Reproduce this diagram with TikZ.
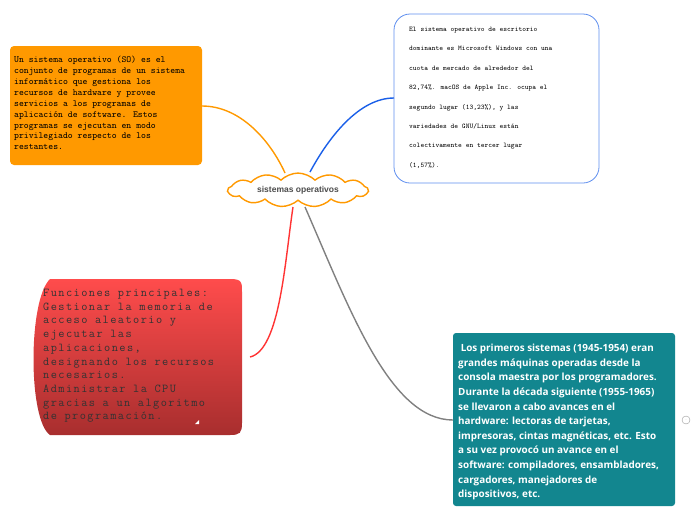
\documentclass[tikz,border=0pt]{standalone}
\usepackage{fontspec}
\setmainfont{Liberation Sans}
\newfontfamily\tealfont{Open Sans}
\newfontfamily\ttA{Latin Modern Mono}
\newfontfamily\ttB[LetterSpace=12]{Latin Modern Mono}
\usetikzlibrary{shapes.symbols}
\definecolor{org}{HTML}{FF9900}
\definecolor{blu}{HTML}{1A5FE8}
\definecolor{tealc}{HTML}{12868F}
\definecolor{rtop}{HTML}{FF4C4C}
\definecolor{rbot}{HTML}{A82E2E}
\begin{document}
\begin{tikzpicture}[x=1pt,y=-1pt,
  txt/.style={inner sep=0pt,anchor=north west,align=left},
  conn/.style={line width=1.4pt}]
\useasboundingbox (0,0) rectangle (696,520);
% orange
\fill[org,rounded corners=4pt] (10,46) rectangle (202,165);
\node[txt,font=\fontsize{9.3}{10.9}\selectfont\ttA\bfseries] (o) at (14,56)
{Un sistema operativo (SO) es el\\conjunto de programas de un sistema\\informático que gestiona los\\recursos de hardware y provee\\servicios a los programas de\\aplicación de software. Estos\\programas se ejecutan en modo\\privilegiado respecto de los\\restantes.};
\coordinate (oe) at (202,106);
% cloud
\node[cloud,cloud puffs=13,cloud puff arc=90,aspect=5,draw=org,line width=1.4pt,fill=white,minimum width=140,minimum height=26,inner sep=0pt,font=\fontsize{8.5}{9}\selectfont\bfseries,text=black!70] (c) at (298,190) {sistemas operativos};
% blue
\draw[blu!70,line width=0.8pt,fill=white,rounded corners=16pt] (394,14) rectangle (599,183);
\node[txt,font=\fontsize{7.1}{19.4}\selectfont\ttA] (b) at (409,27)
{El sistema operativo de escritorio\\dominante es Microsoft Windows con una\\cuota de mercado de alrededor del\\82,74\%. macOS de Apple Inc. ocupa el\\segundo lugar (13,23\%), y las\\variedades de GNU/Linux están\\colectivamente en tercer lugar\\(1,57\%).};
\coordinate (be) at (394,98);
% red
\shade[top color=rtop, bottom color=rbot]
  (50,279) -- (230,279) .. controls (242,279) and (242,282) .. (242,292) -- (242,423)
  .. controls (242,433) and (240,435) .. (230,435) -- (50,435)
  .. controls (28,420) and (28,300) .. (50,279) -- cycle;
\node[txt,font=\fontsize{12}{13.7}\selectfont\ttB,text=black!80] (r) at (43,289)
{Funciones principales:\\Gestionar la memoria de\\acceso aleatorio y\\ejecutar las\\aplicaciones,\\designando los recursos\\necesarios.\\Administrar la CPU\\gracias a un algoritmo\\de programación.};
\fill[white] (195,424) -- (199,420) -- (199,424) -- cycle;
\coordinate (re) at (250,357);
% teal
\fill[tealc,rounded corners=3pt] (453,333) rectangle (675,506);
\node[txt,font=\fontsize{9.9}{14.6}\selectfont\tealfont\bfseries,text=white] (t) at (458,344)
{\ Los primeros sistemas (1945-1954) eran\\grandes máquinas operadas desde la\\consola maestra por los programadores.\\Durante la década siguiente (1955-1965)\\se llevaron a cabo avances en el\\hardware: lectoras de tarjetas,\\impresoras, cintas magnéticas, etc. Esto\\a su vez provocó un avance en el\\software: compiladores, ensambladores,\\cargadores, manejadores de\\dispositivos, etc.};
\node[circle,draw=black!40,line width=0.4pt,minimum size=8pt,inner sep=0pt,font=\fontsize{3}{3}\selectfont,text=black!40] (k) at (686,420) {-};
\coordinate (te) at (453,420);
% connectors
\draw[conn,org] (oe) .. controls (240,106) and (270,140) .. (285,173);
\draw[conn,blu] (310,172) .. controls (330,135) and (360,98) .. (be);
\draw[conn,red!80!white] (293,207) .. controls (285,260) and (280,350) .. (re);
\draw[conn,gray] (305,207) .. controls (350,310) and (390,420) .. (te);
\end{tikzpicture}
\end{document}
